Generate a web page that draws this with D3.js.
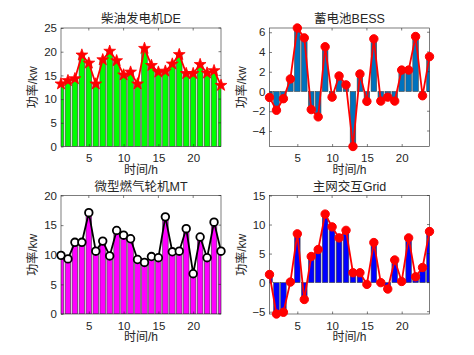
<!DOCTYPE html>
<html><head><meta charset="utf-8">
<script src="https://cdn.jsdelivr.net/npm/d3@7"></script>
<style>
body{margin:0;background:#fff;}
text{font-family:"Liberation Sans","Noto Sans CJK SC",sans-serif;fill:#262626;}
</style></head>
<body><svg id="c" width="474" height="355"></svg>
<script>
const hours = d3.range(1, 25);
const deValues = [13.2,13.9,14.3,19.3,17.6,13.2,18.3,20.1,18.1,15.1,15.7,13.2,20.7,17.1,15.7,15.9,17.4,19.4,15.4,15.4,17.3,15.5,16.0,12.9];
const bessValues = [-0.6,-1.9,-0.73,1.27,6.43,5.43,-1.83,-2.57,4.53,-0.57,1.57,0.67,-5.57,1.77,-1.0,5.33,-0.97,-0.57,-0.97,2.17,2.17,5.57,-0.43,3.53];
const mtValues = [9.9,9.3,12.1,12.1,17.1,10.6,12.3,9.8,14.1,13.3,12.7,9.2,8.7,9.7,9.5,16.4,10.5,10.6,14.4,6.8,13.0,9.5,15.5,10.6];
const gridValues = [1.4,-5.4,-5.1,0.1,8.4,-2.9,4.5,5.7,11.8,9.6,7.7,9.0,1.7,1.7,-0.3,6.9,0.0,-1.1,3.9,0.2,7.7,1.0,2.6,8.8];
const titles = ["柴油发电机DE","蓄电池BESS","微型燃气轮机MT","主网交互Grid"];
const xTicks = [5,10,15,20];
const xLabel = "时间/h", yLabel = "功率/kw";

const panels = [
  {title:titles[0], vals:deValues, dom:[0,25], ticks:[0,5,10,15,20,25], bar:"#00ff00", line:"#ff0000", mk:"star", mfill:"#ff0000", mstroke:"#ff0000", x:61, y:28},
  {title:titles[1], vals:bessValues, dom:d3.extent(bessValues), ticks:[-4,-2,0,2,4,6], bar:"#0072bd", line:"#ff0000", mk:"circle", mfill:"#ff0000", mstroke:"#ff0000", x:269.5, y:28},
  {title:titles[2], vals:mtValues, dom:[0,20], ticks:[0,5,10,15,20], bar:"#ff00ff", line:"#000000", mk:"circle", mfill:"#ffffff", mstroke:"#000000", x:61, y:195.5},
  {title:titles[3], vals:gridValues, dom:[d3.min(gridValues),15], ticks:[-5,0,5,10,15], bar:"#0000ff", line:"#ff0000", mk:"circle", mfill:"#ff0000", mstroke:"#ff0000", x:269.5, y:195.5}
];
const W = 160, H = 118.5;
const svg = d3.select("#c");

function starPath(R){
  const r = R*0.4, pts=[];
  for(let i=0;i<10;i++){
    const a = -Math.PI/2 + i*Math.PI/5, rr = i%2?r:R;
    pts.push([rr*Math.cos(a), rr*Math.sin(a)]);
  }
  return "M"+pts.map(p=>p.join(",")).join("L")+"Z";
}

panels.forEach((p,pi)=>{
  const g = svg.append("g").attr("transform",`translate(${p.x},${p.y})`);
  const x = d3.scaleLinear().domain([1,24]).range([0,W]);
  const y = d3.scaleLinear().domain(p.dom).range([H,0]);
  const cid = "clip"+pi;
  g.append("clipPath").attr("id",cid).append("rect").attr("width",W).attr("height",H);
  const bw = x(1.8)-x(1);
  const y0 = y(Math.max(0,p.dom[0]));
  g.append("g").attr("clip-path",`url(#${cid})`).selectAll("rect").data(p.vals).join("rect")
    .attr("x",(d,i)=>x(hours[i])-bw/2).attr("width",bw)
    .attr("y",d=>Math.min(y(d),y0)).attr("height",d=>Math.abs(y(d)-y0))
    .attr("fill",p.bar).attr("stroke","#444").attr("stroke-width",0.6);
  g.append("rect").attr("width",W).attr("height",H).attr("fill","none").attr("stroke","#262626").attr("stroke-width",0.6);
  const ya = d3.axisLeft(y).tickValues(p.ticks).tickSizeInner(-2.5).tickSizeOuter(0).tickPadding(4).tickFormat(d3.format("d"));
  const yg = g.append("g").call(ya);
  const xa = d3.axisBottom(x).tickValues(xTicks).tickSizeInner(-2.5).tickSizeOuter(0).tickPadding(6);
  const xg = g.append("g").attr("transform",`translate(0,${H})`).call(xa);
  [yg,xg].forEach(a=>{
    a.select(".domain").remove();
    a.selectAll("line").attr("stroke","#262626").attr("stroke-width",0.6);
    a.selectAll("text").attr("font-size",11.5).attr("fill","#262626").style("font-family","Liberation Sans");
  });
  xg.selectAll("text").attr("dy","0.85em");
  g.append("g").selectAll("line").data(p.ticks).join("line")
    .attr("x1",W).attr("x2",W-2.5).attr("y1",d=>y(d)).attr("y2",d=>y(d)).attr("stroke","#262626").attr("stroke-width",0.6);
  g.append("g").selectAll("line").data(xTicks).join("line")
    .attr("y1",0).attr("y2",2.5).attr("x1",d=>x(d)).attr("x2",d=>x(d)).attr("stroke","#262626").attr("stroke-width",0.6);
  const ln = d3.line().x((d,i)=>x(hours[i])).y(d=>y(d));
  g.append("path").datum(p.vals).attr("d",ln).attr("fill","none").attr("stroke",p.line).attr("stroke-width",1.8).attr("stroke-linejoin","round");
  const mg = g.append("g");
  if(p.mk==="star"){
    mg.selectAll("path").data(p.vals).join("path")
      .attr("d",starPath(6.2))
      .attr("transform",(d,i)=>`translate(${x(hours[i])},${y(d)})`)
      .attr("fill",p.mfill).attr("stroke",p.mstroke).attr("stroke-width",0.8);
  } else {
    mg.selectAll("circle").data(p.vals).join("circle")
      .attr("cx",(d,i)=>x(hours[i])).attr("cy",d=>y(d))
      .attr("r", p.mfill==="#ffffff"?3.8:4.2)
      .attr("fill",p.mfill).attr("stroke",p.mstroke).attr("stroke-width",p.mfill==="#ffffff"?1.8:1);
  }
  g.append("text").attr("x",W/2).attr("y",-5).attr("text-anchor","middle").attr("font-size",12.5).text(p.title);
  g.append("text").attr("x",W/2).attr("y",H+27).attr("text-anchor","middle").attr("font-size",12).text(xLabel);
  g.append("text").attr("transform",`translate(${-24},${H/2}) rotate(-90)`).attr("text-anchor","middle").attr("font-size",12).text(yLabel);
});
</script></body></html>
